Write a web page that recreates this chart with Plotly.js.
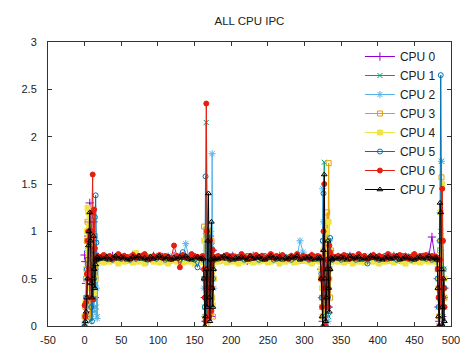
<!DOCTYPE html>
<html><head><meta charset="utf-8">
<script src="https://cdn.plot.ly/plotly-3.0.1.min.js"></script>
<style>html,body{margin:0;padding:0;background:#fff;}#chart{width:474px;height:355px;}</style>
</head><body><div id="chart"></div>
<script>
const seriesNames = ["CPU 0","CPU 1","CPU 2","CPU 3","CPU 4","CPU 5","CPU 6","CPU 7"];
const xTime = [
0,1,2,3,4,5,6,7,8,9,10,11,12,13,14,15,16,17,18,19,
22,26,30,34,38,42,46,50,54,58,62,66,70,74,78,82,86,90,94,98,102,106,110,114,118,122,126,130,134,138,142,146,150,154,158,
161,162,163,164,165,166,167,168,169,170,171,172,173,174,175,176,177,178,
182,186,190,194,198,202,206,210,214,218,222,226,230,234,238,242,246,250,254,258,262,266,270,274,278,282,286,290,294,298,302,306,310,314,318,
321,322,323,324,325,326,327,328,329,330,331,332,333,334,335,336,337,338,
342,346,350,354,358,362,366,370,374,378,382,386,390,394,398,402,406,410,414,418,422,426,430,434,438,442,446,450,454,458,462,466,470,474,478,
480,481,482,483,484,485,486,487,488,489,490,491];
const cpu0 = [
0.75,0.68,0.45,0.2,0.6,0.95,1.1,1.3,0.9,0.4,0.15,0.5,1.1,0.6,0.3,0.75,0.7,0.72,0.71,0.73,
.71,.73,.70,.72,.74, .71,.69,.72,.73,.70, .72,.75,.71,.70,.73, .72,.69,.71,.74,.72, .70,.73,.71,.72,.70, .74,.71,.73,.72,.70, .71,.73,.72,.70,.71,
0.72,0.7,0.6,0.3,0.05,0.5,0.9,1.0,0.6,0.2,0.95,0.4,0.1,0.5,0.8,0.72,0.7,0.71,
.72,.70,.73,.71,.72, .74,.70,.71,.73,.72, .69,.71,.74,.72,.70, .73,.71,.72,.70,.73, .71,.74,.72,.70,.71, .73,.72,.71,.70,.73, .72,.71,.74,.72,.70,
0.72,0.7,0.6,0.3,0.05,0.4,0.8,0.5,0.1,0.6,0.9,0.4,0.2,0.7,0.8,0.72,0.7,0.71,
.71,.73,.72,.70,.72, .74,.71,.70,.73,.72, .71,.69,.72,.74,.71, .73,.70,.72,.71,.73, .74,.72,.70,.71,.73, .72,.70,.74,.71,.72, .73,.71,.75,.94,.73,
0.72,0.7,0.5,0.2,0.05,0.6,0.9,0.4,0.1,0.5,0.3,0.4];
const cpu1 = [
0.02,0.1,0.3,0.6,0.9,1.0,0.7,0.3,0.05,0.4,0.9,0.6,0.2,0.5,0.8,0.7,0.2,0.1,0.68,0.72,
.72,.70,.71,.73,.72, .70,.74,.71,.72,.73, .70,.71,.72,.74,.71, .70,.73,.72,.71,.70, .73,.72,.74,.71,.70, .72,.73,.71,.72,.74, .70,.71,.73,.72,.71,
0.71,0.73,0.5,0.2,1.0,2.15,0.3,0.05,0.6,0.9,0.4,0.2,0.7,0.85,0.6,0.72,0.7,0.71,
.71,.73,.72,.70,.71, .74,.72,.70,.73,.71, .72,.70,.74,.71,.72, .73,.70,.71,.72,.74, .73,.71,.70,.72,.71, .73,.72,.74,.70,.71, .72,.73,.71,.70,.72,
0.71,0.7,0.5,0.2,0.6,0.9,1.73,0.3,0.0,0.5,0.8,0.4,0.1,0.6,0.75,0.7,0.72,0.71,
.72,.71,.73,.70,.72, .71,.74,.72,.70,.73, .71,.72,.70,.73,.74, .71,.72,.70,.71,.73, .72,.71,.74,.70,.72, .73,.71,.70,.72,.74, .71,.73,.72,.70,.71,
0.71,0.7,0.6,0.3,0.0,0.5,1.0,1.74,0.4,0.1,0.6,0.3];
const cpu2 = [
0.0,0.05,0.2,0.5,0.8,0.6,1.0,0.4,0.1,0.3,0.7,1.0,0.5,0.15,0.6,0.9,0.4,0.08,0.66,0.71,
.70,.72,.73,.71,.70, .72,.74,.71,.73,.72, .70,.71,.73,.72,.71, .74,.70,.72,.71,.73, .72,.70,.71,.74,.72, .73,.71,.72,.70,.87, .73,.71,.72,.70,.71,
0.7,0.72,0.4,0.1,0.5,0.8,0.3,0.6,0.9,0.2,0.5,1.0,0.3,1.82,0.6,0.4,0.72,0.7,
.72,.71,.73,.70,.72, .74,.71,.72,.70,.73, .71,.72,.74,.70,.71, .73,.72,.71,.70,.73, .72,.74,.71,.70,.72, .73,.71,.74,.90,.78, .72,.71,.73,.70,.72,
0.7,0.72,0.6,0.3,1.45,1.1,0.4,0.1,0.5,0.8,0.3,0.05,0.6,0.9,0.7,0.68,0.7,0.72,
.71,.72,.70,.73,.71, .74,.72,.70,.71,.73, .72,.71,.74,.70,.72, .73,.71,.72,.70,.74, .71,.72,.73,.70,.71, .72,.74,.71,.73,.70, .72,.71,.73,.72,.70,
0.7,0.72,0.5,0.2,0.6,1.2,0.8,1.74,0.3,0.05,0.5,0.2];
const cpu3 = [
0.1,0.2,0.5,0.9,1.1,1.0,0.6,0.3,0.1,0.5,1.0,0.8,0.3,0.6,0.95,0.5,0.7,0.72,0.7,0.71,
.71,.69,.72,.70,.71, .73,.70,.72,.71,.69, .72,.74,.70,.71,.72, .70,.73,.71,.69,.72, .70,.71,.73,.72,.70, .71,.69,.72,.73,.70, .71,.72,.70,.69,.72,
0.71,0.7,1.05,0.5,0.1,0.0,0.4,0.8,1.0,0.5,0.2,0.6,0.9,0.3,0.1,0.5,0.7,0.71,
.70,.72,.71,.69,.73, .71,.70,.72,.71,.73, .70,.69,.72,.71,.73, .70,.72,.71,.69,.72, .73,.70,.71,.72,.70, .73,.71,.72,.70,.69, .71,.73,.72,.70,.71,
0.71,0.7,0.5,0.3,0.1,0.6,0.2,0.05,0.4,0.9,1.2,0.5,1.72,0.6,0.3,0.8,0.7,0.71,
.72,.70,.71,.73,.69, .72,.71,.70,.73,.72, .70,.71,.69,.72,.73, .71,.70,.72,.71,.69, .73,.70,.72,.71,.70, .72,.73,.71,.69,.70, .72,.71,.73,.70,.72,
0.71,0.7,0.6,0.4,0.1,0.8,0.5,1.57,0.9,0.2,0.4,0.3];
const cpu4 = [
0.02,0.25,0.6,1.0,1.25,1.2,1.05,0.7,0.4,0.3,0.6,0.9,0.5,0.35,0.5,0.7,0.68,0.66,0.69,0.7,
.69,.67,.70,.68,.71, .69,.66,.70,.68,.69, .71,.67,.77,.68,.69, .66,.70,.71,.68,.69, .67,.70,.68,.66,.69, .71,.68,.70,.67,.69, .68,.70,.66,.69,.68,
0.69,0.68,0.9,0.6,0.2,0.05,0.5,1.0,0.7,0.3,0.8,0.5,0.3,0.6,0.22,0.5,0.68,0.69,
.68,.70,.69,.67,.71, .68,.69,.66,.70,.68, .71,.69,.67,.70,.68, .69,.71,.67,.68,.70, .69,.66,.71,.68,.70, .69,.67,.68,.70,.69, .71,.68,.66,.70,.69,
0.68,0.69,0.6,0.4,0.2,0.8,0.5,0.1,1.0,0.6,0.3,0.9,1.1,0.5,0.8,0.7,0.68,0.69,
.69,.68,.70,.67,.69, .71,.66,.70,.68,.69, .67,.70,.71,.68,.69, .66,.70,.68,.69,.71, .67,.69,.70,.68,.66, .71,.69,.68,.70,.67, .69,.70,.68,.69,.68,
0.69,0.68,0.7,0.5,0.3,0.9,1.2,0.6,1.5,0.4,0.2,0.5];
const cpu5 = [
0.0,0.1,0.3,0.6,0.7,0.5,0.9,1.0,0.5,0.2,0.05,0.4,0.8,0.5,1.15,1.38,0.88,0.7,0.72,0.71,
.72,.74,.71,.73,.70, .72,.73,.71,.74,.72, .70,.73,.71,.72,.74, .71,.70,.73,.72,.71, .74,.72,.70,.73,.71, .72,.73,.70,.78,.72, .71,.73,.70,.62,.72,
0.72,0.7,0.5,0.2,1.58,0.4,0.1,0.6,0.9,0.5,0.3,0.2,0.6,0.8,0.5,0.72,0.7,0.71,
.71,.73,.72,.74,.70, .72,.71,.73,.72,.70, .74,.71,.72,.73,.70, .71,.74,.72,.73,.70, .71,.72,.74,.73,.71, .70,.72,.74,.71,.73, .72,.70,.71,.73,.72,
0.72,0.7,0.55,0.3,0.9,1.4,0.6,0.1,0.0,0.4,0.7,0.3,0.2,0.6,0.93,0.75,0.71,0.7,
.73,.72,.70,.71,.74, .72,.73,.70,.71,.72, .74,.66,.72,.73,.71, .70,.72,.74,.71,.73, .72,.70,.71,.74,.72, .73,.70,.71,.72,.73, .74,.71,.72,.70,.73,
0.72,0.7,0.5,0.2,0.6,0.9,2.65,0.5,0.0,0.3,0.6,0.4];
const cpu6 = [
0.22,0.1,0.25,0.55,0.9,1.0,0.6,0.3,0.5,1.0,1.2,1.6,0.28,1.23,0.82,0.7,0.72,0.74,0.73,0.72,
.73,.75,.72,.74,.71, .73,.76,.72,.74,.73, .71,.75,.72,.74,.73, .76,.72,.71,.74,.73, .75,.72,.74,.73,.71, .85,.74,.62,.75,.73, .72,.76,.74,.73,.72,
0.74,0.72,0.6,0.3,0.05,2.35,1.0,0.4,0.1,0.6,0.9,0.5,0.16,0.4,0.8,0.7,0.73,0.72,
.74,.72,.73,.75,.71, .74,.73,.72,.76,.73, .71,.74,.72,.75,.73, .74,.71,.73,.76,.72, .74,.73,.75,.72,.71, .74,.73,.76,.72,.74, .73,.71,.75,.73,.74,
0.73,0.72,0.5,0.2,0.6,1.0,1.5,0.4,0.0,0.3,0.7,0.2,0.5,0.85,0.78,0.72,0.74,0.73,
.73,.74,.72,.75,.73, .71,.74,.72,.76,.73, .74,.71,.73,.75,.72, .74,.73,.71,.76,.72, .74,.73,.75,.72,.74, .71,.73,.76,.72,.74, .73,.75,.72,.74,.73,
0.73,0.72,0.6,0.3,0.0,0.7,0.2,0.5,1.45,0.9,0.4,0.2];
const cpu7 = [
0.0,0.05,0.15,0.3,0.5,0.85,1.0,1.2,0.9,0.45,0.3,0.5,0.95,0.6,0.4,0.65,0.7,0.73,0.72,0.71,
.72,.71,.73,.70,.72, .74,.71,.73,.72,.70, .71,.73,.72,.74,.71, .72,.70,.73,.71,.72, .74,.72,.71,.73,.70, .72,.71,.73,.72,.74, .71,.70,.72,.73,.71,
0.72,0.71,0.5,0.0,0.1,0.6,0.2,0.9,1.4,0.3,0.05,0.7,1.1,0.4,0.2,0.6,0.72,0.71,
.71,.72,.74,.71,.73, .70,.72,.71,.73,.72, .70,.74,.71,.72,.73, .71,.70,.72,.74,.72, .71,.73,.70,.72,.71, .73,.72,.74,.70,.71, .72,.73,.71,.70,.72,
0.72,0.71,0.5,0.1,0.0,0.8,1.6,0.5,0.05,0.3,0.6,0.9,0.4,0.15,0.6,0.72,0.7,0.71,
.72,.71,.73,.72,.70, .74,.71,.72,.73,.70, .72,.71,.74,.72,.73, .71,.70,.72,.73,.71, .72,.74,.70,.71,.73, .72,.71,.70,.72,.73, .71,.72,.74,.71,.72,
0.72,0.7,0.4,0.1,0.0,1.3,1.2,0.6,0.2,0.0,0.5,0.05];
const xTicks = [-50,0,50,100,150,200,250,300,350,400,450,500];
const yTicks = [0,0.5,1,1.5,2,2.5,3];

const seriesValues = [cpu0,cpu1,cpu2,cpu3,cpu4,cpu5,cpu6,cpu7];
const colors = ["#9400d3","#009e73","#56b4e9","#e69f00","#f0e442","#0072b2","#e51e10","#000000"];
const symbols = ["cross-thin-open","x-thin-open","asterisk-open","square-open","square","circle-open","circle","triangle-up-open"];
const sizes = [6,5,6,5,5,5,5,5];

const traces = seriesValues.map((v,i)=>({
  type:'scatter', mode:'lines+markers', name:seriesNames[i],
  x:xTime, y:v,
  line:{color:colors[i], width:1},
  marker:{symbol:symbols[i], size:sizes[i], color:colors[i], line:{color:colors[i], width:1}}
}));

const font = {family:'"Liberation Sans", Arial, sans-serif', size:11, color:'#222'};
const axisCommon = {
  showline:true, linecolor:'#333', linewidth:1, mirror:'ticks',
  ticks:'inside', ticklen:4, tickcolor:'#333', tickwidth:1,
  showgrid:false, zeroline:false, tickfont:font
};
const layout = {
  width:474, height:355,
  margin:{l:48, r:23, t:42, b:29},
  paper_bgcolor:'#fff', plot_bgcolor:'#fff',
  font:font,
  title:{text:'ALL CPU IPC', font:{family:font.family, size:11.5, color:'#222'}, x:0.5, xref:'paper', y:1-21/355, yref:'container', yanchor:'middle'},
  xaxis:Object.assign({}, axisCommon, {range:[-50,500], tickvals:xTicks, ticktext:xTicks.map(String), ticklabelstandoff:4}),
  yaxis:Object.assign({}, axisCommon, {range:[0,3], tickvals:yTicks, ticktext:yTicks.map(String), ticklabelstandoff:8}),
  showlegend:true,
  legend:{x:0.975, xanchor:'right', y:1.0, yanchor:'top', bgcolor:'rgba(0,0,0,0)', borderwidth:0, font:{family:font.family, size:12, color:'#222'}, itemwidth:30, tracegroupgap:0}
};
Plotly.newPlot('chart', traces, layout, {displayModeBar:false, staticPlot:true});
</script>
</body></html>
